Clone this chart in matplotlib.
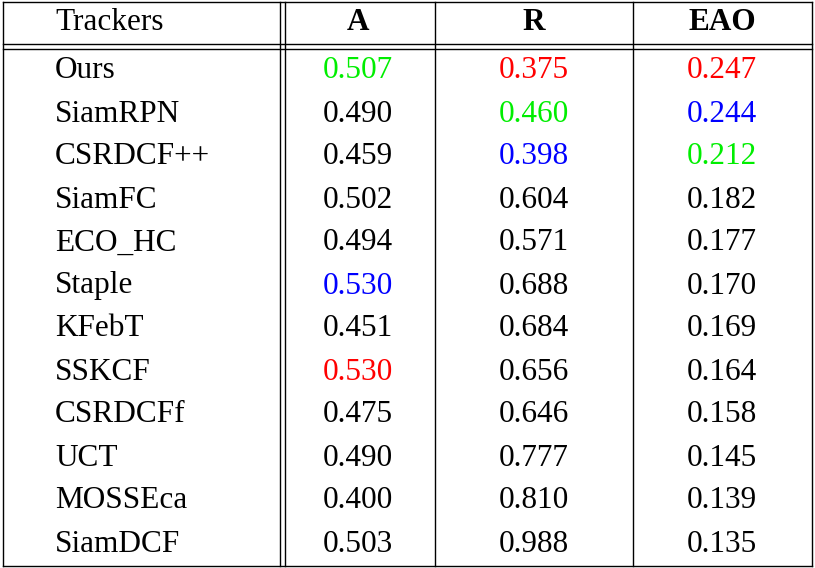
import matplotlib
matplotlib.use("Agg")
import matplotlib.pyplot as plt

headers = ["Trackers", "A", "R", "EAO"]
trackers = ["Ours", "SiamRPN", "CSRDCF++", "SiamFC", "ECO_HC", "Staple", "KFebT",
            "SSKCF", "CSRDCFf", "UCT", "MOSSEca", "SiamDCF"]
A = ["0.507", "0.490", "0.459", "0.502", "0.494", "0.530", "0.451", "0.530", "0.475", "0.490", "0.400", "0.503"]
R = ["0.375", "0.460", "0.398", "0.604", "0.571", "0.688", "0.684", "0.656", "0.646", "0.777", "0.810", "0.988"]
EAO = ["0.247", "0.244", "0.212", "0.182", "0.177", "0.170", "0.169", "0.164", "0.158", "0.145", "0.139", "0.135"]
colA = {0: "#00ee00", 5: "#0000ff", 7: "#ff0000"}
colR = {0: "#ff0000", 1: "#00ee00", 2: "#0000ff"}
colE = {0: "#ff0000", 1: "#0000ff", 2: "#00ee00"}

W, H = 815, 568
fig = plt.figure(figsize=(W/100, H/100), dpi=100)
ax = fig.add_axes([0, 0, 1, 1])
ax.set_xlim(0, W); ax.set_ylim(H, 0); ax.axis("off")
fam = ["Liberation Serif", "DejaVu Serif"]
fs = 22.5
lw = 1.0
x0, x1 = 3, 812
top, bot = 2, 566
for x in [x0, 280, 285, 435, 633, x1]:
    ax.plot([x, x], [top, bot], color="black", lw=lw)
for y in [top, 44, 49, bot]:
    ax.plot([x0, x1], [y, y], color="black", lw=lw)

ax.text(55, 23, headers[0], fontsize=fs, family=fam, va="center", ha="left")
for xc, h in zip([358, 534, 722], headers[1:]):
    ax.text(xc, 23, h, fontsize=fs, family=fam, va="center", ha="center", weight="bold")

y0 = 71; pitch = 43
for i, t in enumerate(trackers):
    y = y0 + i * pitch
    ax.text(55, y, t, fontsize=fs, family=fam, va="center", ha="left")
    ax.text(358, y, A[i], fontsize=fs, family=fam, va="center", ha="center", color=colA.get(i, "black"))
    ax.text(534, y, R[i], fontsize=fs, family=fam, va="center", ha="center", color=colR.get(i, "black"))
    ax.text(722, y, EAO[i], fontsize=fs, family=fam, va="center", ha="center", color=colE.get(i, "black"))

fig.savefig("out.png", dpi=100)
